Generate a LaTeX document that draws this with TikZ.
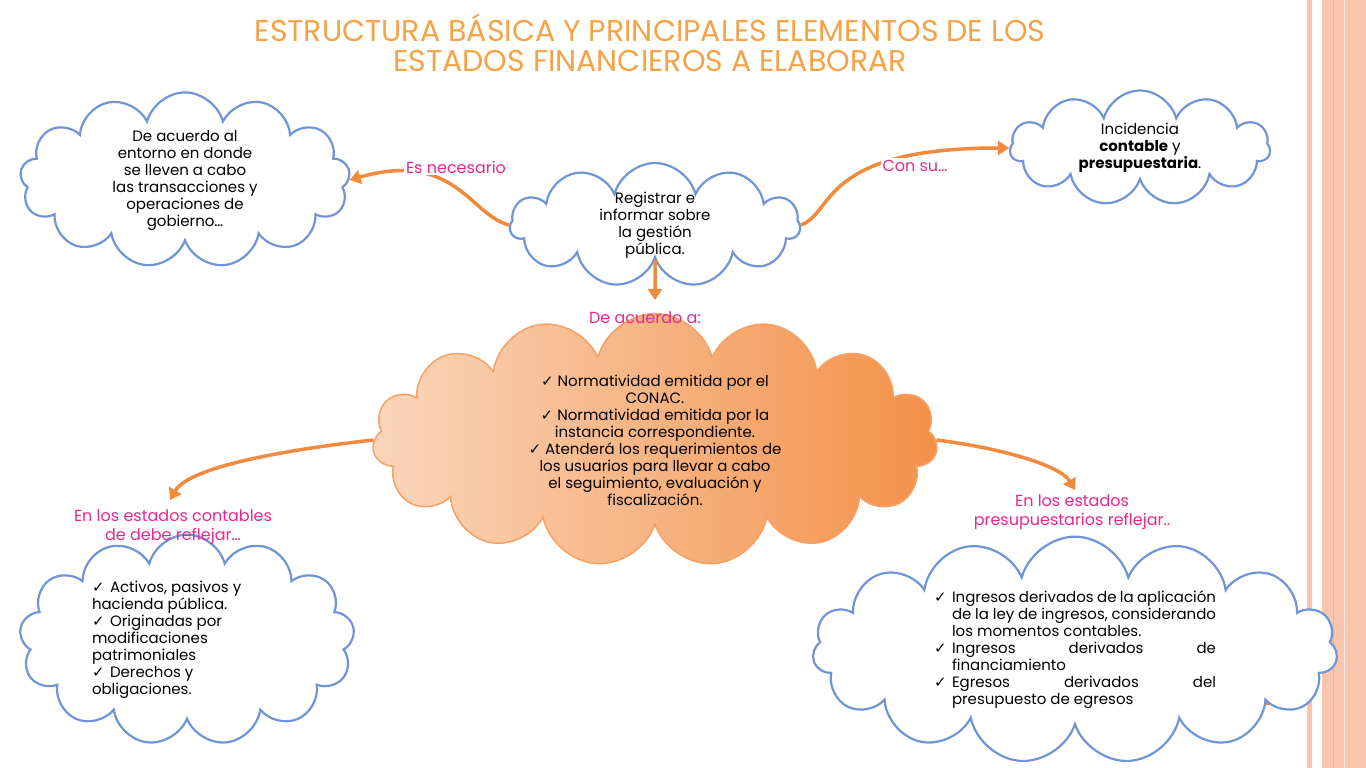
\documentclass[tikz,border=0pt]{standalone}
\usepackage{fontspec}
\setmainfont{Poppins}
\newfontfamily\symf{DejaVu Sans}
\usetikzlibrary{shapes.symbols,arrows.meta,shadings}
\definecolor{cblue}{HTML}{6F95D8}
\definecolor{carr}{HTML}{F28A3E}
\definecolor{cpink}{HTML}{E8288A}
\definecolor{cpeach}{HTML}{FBC6AE}
\definecolor{ctitle}{HTML}{F5A347}
\newcommand{\ck}{{\symf ✓}\ }
\newcommand{\itm}{\par\hangindent=18pt\hangafter=1\noindent\makebox[18pt][l]{\symf ✓}}
\tikzset{
 cloudbox/.style={cloud, cloud ignores aspect, cloud puffs=13, draw=cblue, line width=2.2pt, fill=white, align=center, font=\fontsize{15}{17}\selectfont, inner sep=0pt},
 arr/.style={draw=carr, line width=3.5pt, -{Triangle[length=11pt,width=14pt]}},
 lab/.style={text=cpink, font=\fontsize{16}{19}\selectfont, align=center},
 ttl/.style={text=ctitle, font=\fontsize{30}{34}\selectfont}
}
\begin{document}
\begin{tikzpicture}[x=1pt,y=-1pt]
\useasboundingbox (0,0) rectangle (1366,768);
\fill[white] (0,0) rectangle (1366,768);
% side stripes
\fill[cpeach] (1307,0) rectangle (1312,768);
\fill[cpeach] (1322,0) rectangle (1366,768);
\draw[carr!70,line width=0.8pt] (1333,0) -- (1333,768);
\draw[white!60!cpeach,line width=0.6pt] (1344,0) -- (1344,768);
% title
\node[ttl] (t1) at (650,28) {ESTRUCTURA BÁSICA Y PRINCIPALES ELEMENTOS DE LOS};
\node[ttl] (t2) at (650,61) {ESTADOS FINANCIEROS A ELABORAR};
% clouds
\node[cloudbox, minimum width=330pt, minimum height=150pt] (lc) at (185,180)
 {De acuerdo al\\entorno en donde\\se lleven a cabo\\las transacciones y\\operaciones de\\gobierno…};
\node[cloudbox, cloud puffs=11, minimum width=290pt, minimum height=110pt] (cc) at (655,225)
 {Registrar e\\informar sobre\\la gestión\\pública.};
\node[cloudbox, cloud puffs=11, minimum width=260pt, minimum height=115pt] (rc) at (1140,148)
 {Incidencia\\\textbf{contable} y\\\textbf{presupuestaria}.};
\node[cloud, cloud ignores aspect, cloud puffs=15, draw=carr!80, line width=1.5pt, left color=carr!35, right color=carr!95, minimum width=565pt, minimum height=215pt, inner sep=0pt, font=\fontsize{15}{17}\selectfont] (mc) at (655,440)
 {\parbox{320pt}{\centering \ck Normatividad emitida por el\\CONAC.\\\ck Normatividad emitida por la\\instancia correspondiente.\\\ck Atenderá los requerimientos de\\los usuarios para llevar a cabo\\el seguimiento, evaluación y\\fiscalización.}};
\node[cloudbox, minimum width=335pt, minimum height=185pt] (bl) at (187,640)
 {\parbox{190pt}{\raggedright \itm Activos, pasivos y\\hacienda pública.\itm Originadas por\\modificaciones\\patrimoniales\itm Derechos y\\obligaciones.\par}};
\fill[carr] (1270,670) ellipse (35pt and 35pt);
\node[cloudbox, cloud puffs=15, minimum width=525pt, minimum height=215pt] (br) at (1075,650)
 {\parbox{282pt}{\fontsize{15}{17}\selectfont
 \itm Ingresos derivados de la aplicación de la ley de ingresos, considerando los momentos contables.
 \itm Ingresos\hfill derivados\hfill de\\financiamiento
 \itm Egresos\hfill derivados\hfill del\\presupuesto de egresos\par}};
% arrows
\draw[arr] (cc.west) .. controls (470,215) and (455,150) .. (lc.east);
\node[lab, fill=white, inner sep=2pt] (l1) at (456,167) {Es necesario};
\draw[arr] (cc.east) .. controls (835,212) and (820,148) .. (rc.west);
\node[lab, fill=white, inner sep=2pt] (l2) at (915,166) {Con su…};
\draw[arr] (cc.south) -- (655,300);
\node[lab] (l3) at (645,318) {De acuerdo a:};
\draw[arr] (mc.west) .. controls (300,448) and (190,465) .. (170,500);
\draw[arr] (mc.east) .. controls (1000,448) and (1060,465) .. (1075,490);
\node[lab] (l4) at (173,527) {En los estados contables\\de debe reflejar…};
\node[lab] (l5) at (1072,512) {En los estados\\presupuestarios reflejar..};
\end{tikzpicture}
\end{document}
